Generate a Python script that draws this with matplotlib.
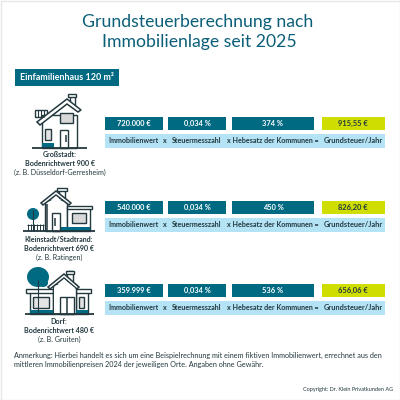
import matplotlib
matplotlib.use("Agg")
from matplotlib import pyplot as plt
from matplotlib.patches import Rectangle, Polygon, Circle, Ellipse

plt.rcParams['font.family'] = ['Lato', 'DejaVu Sans']

TEAL = '#006a82'
DARK = '#23383f'
TITLE = '#0b5f78'
LIGHT = '#b4e3f5'
LIME = '#cfdd00'

title_lines = ['Grundsteuerberechnung nach', 'Immobilienlage seit 2025']
header = 'Einfamilienhaus 120 m²'
werte = ['720.000 €', '540.000 €', '359.999 €']
messzahl = ['0,034 %', '0,034 %', '0,034 %']
hebesatz = ['374 %', '450 %', '536 %']
grundsteuer = ['915,55 €', '826,20 €', '656,06 €']
orte = ['Großstadt:', 'Kleinstadt/Stadtrand:', 'Dorf:']
richtwert = ['Bodenrichtwert 900 €', 'Bodenrichtwert 690 €', 'Bodenrichtwert 480 €']
beispiel = ['(z. B. Düsseldorf-Gerresheim)', '(z. B. Ratingen)', '(z. B. Gruiten)']
note = ['Anmerkung: Hierbei handelt es sich um eine Beispielrechnung mit einem fiktiven Immobilienwert, errechnet aus den',
        'mittleren Immobilienpreisen 2024 der jeweiligen Orte. Angaben ohne Gewähr.']

row_top = [117, 201, 284]
label_y = [154, 239, 321]
label_x = [60, 59, 59]

fig = plt.figure(figsize=(4, 4), dpi=100)
ax = fig.add_axes([0, 0, 1, 1])
ax.set_xlim(0, 400)
ax.set_ylim(400, 0)
ax.axis('off')

ax.add_patch(Rectangle((0.5, 0.5), 399, 399, fc='white', ec='#e6e6e6', lw=1))


def box(x0, x1, y0, y1, color):
    ax.add_patch(Rectangle((x0, y0), x1 - x0, y1 - y0, fc=color, ec='none', zorder=1))


def rect(x0, x1, y0, y1, fc='white', lw=1.0):
    ax.add_patch(Rectangle((x0, y0), x1 - x0, y1 - y0, fc=fc, ec=DARK, lw=lw, zorder=4))


def roof(pts, lw=1.1):
    ax.add_patch(Polygon(pts, closed=True, fc='white', ec=DARK, lw=lw, zorder=5))


def line(xs, ys, lw=1.1, color=DARK, z=6):
    ax.plot(xs, ys, color=color, lw=lw, zorder=z, solid_capstyle='butt')


for i, y in enumerate(row_top):
    box(105, 163, y, y + 12.5, TEAL)
    box(168, 226, y, y + 12.5, TEAL)
    box(232, 314, y, y + 12.5, TEAL)
    box(322, 384.5, y, y + 12.5, LIME)
    box(105, 385, y + 17, y + 30.5, LIGHT)

    ax.text(134, y + 6.2, werte[i], color='white', fontsize=5.4, fontweight='bold', ha='center', va='center')
    ax.text(197, y + 6.2, messzahl[i], color='white', fontsize=5.4, fontweight='bold', ha='center', va='center')
    ax.text(273, y + 6.2, hebesatz[i], color='white', fontsize=5.4, fontweight='bold', ha='center', va='center')
    ax.text(353, y + 6.2, grundsteuer[i], color=DARK, fontsize=5.4, fontweight='bold', ha='center', va='center')

    ty = y + 23.7
    ax.text(108, ty, 'Immobilienwert', color=DARK, fontsize=5.1, fontweight='bold', va='center')
    ax.text(165, ty, 'x', color=DARK, fontsize=5.1, fontweight='bold', ha='center', va='center')
    ax.text(172, ty, 'Steuermesszahl', color=DARK, fontsize=5.1, fontweight='bold', va='center')
    ax.text(227, ty, 'x Hebesatz der Kommunen =', color=DARK, fontsize=5.1, fontweight='bold', va='center')
    ax.text(324, ty, 'Grundsteuer/Jahr', color=DARK, fontsize=5.3, fontweight='bold', va='center')

    ax.text(label_x[i], label_y[i] + 0.5, orte[i], color=DARK, fontsize=5.1, fontweight='bold', ha='center', va='center')
    ax.text(label_x[i], label_y[i] + 9.5, richtwert[i], color=DARK, fontsize=5.1, fontweight='bold', ha='center', va='center')
    ax.text(label_x[i], label_y[i] + 18.5, beispiel[i], color=DARK, fontsize=5.1, ha='center', va='center')

# title and header
ax.text(197.5, 21.5, title_lines[0], color=TITLE, fontsize=12.7, ha='center', va='center')
ax.text(199.5, 41.5, title_lines[1], color=TITLE, fontsize=12.7, ha='center', va='center')
box(15, 119, 69, 86, TEAL)
ax.text(67, 77.5, header, color='white', fontsize=6.5, fontweight='bold', ha='center', va='center')

# house 1 (city)
rect(35, 47, 110, 117)
for x in [38, 41, 44]:
    line([x, x], [110, 117], lw=0.8)
rect(42, 77, 115, 148)
box(42, 54, 143, 148, TEAL)
ax.patches[-1].set_zorder(5)
rect(70, 75, 96, 106)
rect(68, 76, 94, 97)
roof([(37, 122), (67, 99), (81, 110), (78, 112), (67, 104), (40, 125)])
rect(60, 73, 113, 123, fc='#d8d8d8')
rect(45, 51, 129, 140, fc='#e4e4e4')
rect(60, 68, 130, 148)
line([65.5, 65.5], [135, 142])
line([32, 87], [148, 148], lw=1.3)

# house 2 (suburb)
ax.add_patch(Circle((33, 214), 6, fc=TEAL, ec='none', zorder=3))
line([33, 33], [210, 231], lw=0.8)
for x in [28, 31, 34, 37, 40, 43]:
    line([x, x], [224, 231], lw=0.7)
line([27, 44], [225, 225], lw=0.7)
rect(45, 67, 200, 231)
rect(59, 65, 189, 198)
rect(57, 67, 188, 191)
roof([(41, 203), (56, 191), (71, 203), (69, 205), (56, 195), (43, 205)])
ax.add_patch(Polygon([(47, 204), (56, 196), (65, 204), (65, 231), (47, 231)], fc='white', ec='none', zorder=5))
line([47, 47], [204, 231])
rect(67, 90, 208, 231)
rect(67, 92, 206, 209)
rect(72, 86, 213, 223, fc='#d8d8d8')
box(60, 90, 227, 231, TEAL)
ax.patches[-1].set_zorder(5)
rect(52, 60, 213, 231)
ax.patches[-1].set_zorder(6)
line([55, 55], [218, 226])
line([23, 95], [231, 231], lw=1.3)

# house 3 (village)
ax.add_patch(Ellipse((38, 277), 22, 20, fc=TEAL, ec='none', zorder=3))
ax.add_patch(Ellipse((43, 283), 10, 8, fc=TEAL, ec='none', zorder=3))
rect(30, 53, 292, 314)
rect(76, 88, 292, 314)
box(30, 53, 310, 314, TEAL)
ax.patches[-1].set_zorder(5)
box(76, 88, 310, 314, TEAL)
ax.patches[-1].set_zorder(5)
rect(26, 53, 289, 293)
rect(76, 91, 289, 293)
rect(53, 76, 284, 314)
rect(67, 73, 271, 282)
rect(66, 74, 271, 274)
roof([(48, 287), (64, 274), (79, 287), (77, 289), (64, 278), (50, 289)])
ax.add_patch(Polygon([(54, 288), (64, 279), (75, 288), (75, 313), (54, 313)], fc='white', ec='none', zorder=5))
rect(60, 74, 297, 314)
ax.patches[-1].set_zorder(6)
line([67, 67], [297, 314])
rect(33, 49, 297, 308, fc='#e4e4e4')
ax.patches[-1].set_zorder(6)
rect(79, 84, 297, 308, fc='#e4e4e4')
ax.patches[-1].set_zorder(6)
line([38, 38], [280, 314], lw=0.8, z=7)
line([25, 94], [314, 314], lw=1.3, z=7)

# footnote
ax.text(14.5, 355, note[0], color=DARK, fontsize=5.2, va='center')
ax.text(14.5, 364, note[1], color=DARK, fontsize=5.2, va='center')
ax.text(393, 390, 'Copyright: Dr. Klein Privatkunden AG', color=DARK, fontsize=4.0, ha='right', va='center')

fig.savefig('out.png', dpi=100)
